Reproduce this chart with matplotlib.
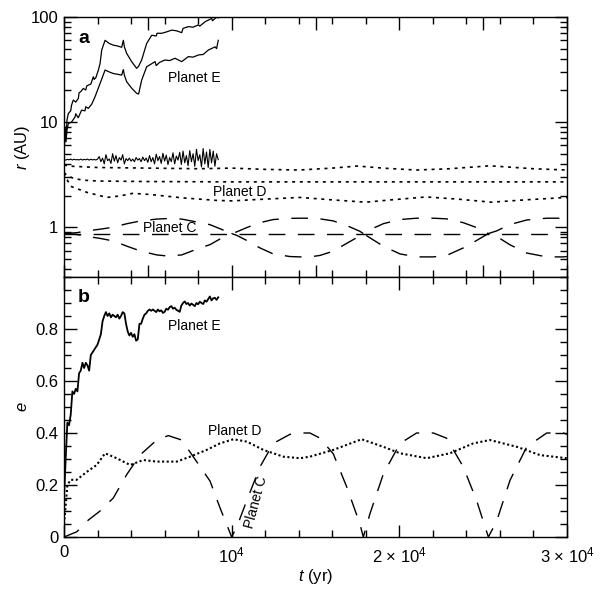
import matplotlib
matplotlib.use('Agg')
import matplotlib.pyplot as plt
import numpy as np
from matplotlib.ticker import MultipleLocator, FixedLocator, NullFormatter, LogLocator

plt.rcParams['font.family'] = 'Liberation Sans'
plt.rcParams['mathtext.fontset'] = 'custom'
plt.rcParams['mathtext.rm'] = 'Liberation Sans'
plt.rcParams['mathtext.it'] = 'Liberation Sans:italic'

# ---- planet E (scattered outward), sampled every 100 yr up to 9200 yr ----
tE = np.arange(0, 9201, 100)

E_peri = [4.4, 4.35, 4.42, 4.38, 4.45, 4.36, 4.43, 4.38, 4.4, 4.37, 4.44, 4.36, 4.42, 4.38,
          4.45, 4.35, 4.43, 4.37, 4.41, 4.36, 4.44,
          4.7, 4.2, 4.55, 4.0, 4.9, 4.3, 4.45, 4.05, 5.0, 4.25, 4.8, 4.1, 4.6, 4.35, 4.9, 4.0, 4.5,
          4.3, 4.55, 4.25, 4.45, 4.2, 4.6, 4.35, 4.5, 4.2, 4.65, 4.3, 4.55, 4.15,
          4.8, 4.2, 4.6, 4.0, 4.95, 4.3, 4.7, 4.05, 5.05, 4.25, 4.85, 3.95, 4.6, 4.2, 5.1, 4.0,
          4.75, 4.35, 5.15, 3.95,
          5.3, 4.1, 4.8, 3.85, 5.35, 4.2, 5.0, 3.8, 5.5, 4.3, 4.9, 3.75, 5.6, 4.0, 5.2, 3.7,
          5.5, 4.1, 5.3, 3.8, 5.0, 4.4]

E_ecc = [0.15, 0.30, 0.44, 0.43, 0.47, 0.56, 0.55, 0.57, 0.56, 0.63, 0.64, 0.67, 0.65, 0.67,
         0.66, 0.64, 0.70, 0.71, 0.72, 0.73, 0.74, 0.76, 0.78, 0.83, 0.85, 0.865, 0.85, 0.86,
         0.845, 0.855, 0.85, 0.845, 0.855, 0.84, 0.85, 0.865, 0.86, 0.82, 0.79, 0.775, 0.785,
         0.77, 0.78, 0.755, 0.76, 0.82, 0.82, 0.84, 0.855, 0.86, 0.87, 0.875, 0.87, 0.875,
         0.87, 0.865, 0.875, 0.868, 0.872, 0.862, 0.866, 0.878, 0.874, 0.884, 0.888, 0.878,
         0.882, 0.874, 0.87, 0.866, 0.89, 0.9, 0.906, 0.896, 0.9, 0.89, 0.898, 0.893, 0.888,
         0.9, 0.895, 0.905, 0.9, 0.896, 0.91, 0.905, 0.915, 0.925, 0.91, 0.918, 0.92, 0.912,
         0.922]

tE_apo = [0, 60, 120, 180, 260, 400, 450, 555, 700, 855, 900, 1000, 1150, 1300, 1350, 1450,
          1600, 1750, 1800, 1900, 2050, 2150, 2250, 2450, 2700, 2940, 3200, 3440, 3540, 3600,
          3740, 4040, 4330, 4450, 4630, 4930, 5230, 5500, 5550, 5830, 6100, 6420, 6700, 7020,
          7100, 7420, 7700, 8010, 8100, 8410, 8810, 8850, 9110, 9200]
E_apo = [5.2, 9.0, 7.0, 10.5, 12.1, 12.8, 14.5, 16.2, 15.5, 16.8, 19.0, 19.5, 20.9, 20.2, 22.0,
         22.5, 23.0, 27.0, 25.5, 26.5, 31.3, 36.0, 48.5, 60.0, 56.0, 54.0, 53.0, 51.5, 60.0,
         52.0, 45.0, 37.5, 32.5, 34.0, 38.9, 56.0, 67.0, 66.0, 70.0, 70.0, 72.0, 75.0, 74.0,
         71.0, 78.0, 81.0, 80.0, 84.0, 82.0, 90.0, 97.0, 92.0, 100.0, 98.0]

tE_a = [0, 60, 120, 180, 260, 450, 660, 700, 850, 1050, 1250, 1300, 1450, 1650, 1850, 2150,
        2450, 2700, 2940, 3200, 3440, 3540, 3600, 3740, 4040, 4330, 4450, 4630, 4930, 5430,
        5500, 5700, 6020, 6300, 6620, 7020, 7420, 7700, 8010, 8300, 8610, 9010, 9100, 9200]
E_a = [5.0, 7.5, 6.5, 8.5, 9.7, 10.0, 11.2, 12.0, 11.0, 13.0, 12.8, 14.0, 13.5, 14.8, 17.4,
       23.3, 31.3, 30.0, 29.0, 28.5, 28.0, 31.6, 28.0, 24.2, 21.0, 18.8, 18.5, 25.0, 33.6,
       37.6, 34.5, 37.0, 39.0, 38.5, 40.5, 37.6, 42.0, 41.5, 43.5, 44.0, 48.5, 52.0, 50.0, 60.0]

# ---- planet D ----
tD_apo = [0, 500, 2000, 5000, 8000, 10000, 12000, 14000, 16000, 17500, 19000, 21000, 23000,
          25400, 28000, 30000]
D_apo = [3.9, 3.8, 3.7, 3.65, 3.6, 3.65, 3.55, 3.5, 3.65, 3.82, 3.65, 3.5, 3.6, 3.84, 3.6, 3.5]

tD_a = [0, 200, 600, 1200, 2000, 5000, 10000, 15000, 20000, 25000, 30000]
D_a = [3.3, 3.1, 2.9, 2.8, 2.75, 2.72, 2.7, 2.7, 2.7, 2.7, 2.7]

tD_peri = [0, 150, 400, 1350, 2550, 3300, 4100, 5100, 7100, 9100, 10000, 11100, 14080, 16000,
           18000, 19500, 21600, 23500, 25500, 27500, 30000]
D_peri = [3.3, 2.9, 2.45, 2.15, 1.92, 1.98, 2.1, 2.05, 1.9, 1.8, 1.78, 1.82, 1.92, 1.82, 1.73,
          1.82, 1.94, 1.85, 1.73, 1.82, 1.92]

tD_ecc = [0, 100, 200, 400, 760, 1350, 1950, 2450, 3140, 3940, 4730, 5530, 6720, 7520, 8510,
          9300, 10100, 10900, 11890, 13080, 14080, 14670, 16060, 17750, 19040, 20040, 21630,
          23020, 24410, 25400, 27000, 28390, 29980]
D_ecc = [0.05, 0.12, 0.2, 0.22, 0.22, 0.25, 0.277, 0.322, 0.303, 0.277, 0.296, 0.29, 0.29,
         0.309, 0.335, 0.36, 0.376, 0.367, 0.335, 0.309, 0.303, 0.309, 0.335, 0.376, 0.347,
         0.322, 0.303, 0.322, 0.36, 0.373, 0.347, 0.315, 0.303]

# ---- planet C ----
tC = [0, 760, 1450, 2150, 2940, 3740, 4530, 5530, 6220, 7020, 7910, 8710, 9300, 10000, 10300,
      10900, 11690, 12480, 13480, 14080, 14670, 15270, 16060, 16860, 17650, 17850, 18250, 19050,
      20040, 21030, 22030, 22820, 23810, 24610, 25310, 25800, 26600, 27600, 28790, 29780, 30000]
C_ecc = [0, 0.02, 0.065, 0.10, 0.15, 0.24, 0.315, 0.373, 0.39, 0.373, 0.29, 0.215, 0.113, 0.0,
         0.038, 0.14, 0.27, 0.36, 0.395, 0.40, 0.40, 0.38, 0.32, 0.193, 0.05, 0.0, 0.09, 0.243,
         0.36, 0.40, 0.40, 0.38, 0.27, 0.14, 0.0, 0.06, 0.218, 0.347, 0.40, 0.40, 0.395]
C_apo = [0.87, 0.887, 0.927, 0.957, 1.0, 1.079, 1.144, 1.195, 1.209, 1.195, 1.122, 1.057, 0.968,
         0.87, 0.903, 0.992, 1.105, 1.183, 1.214, 1.218, 1.218, 1.201, 1.148, 1.038, 0.914, 0.87,
         0.948, 1.081, 1.183, 1.218, 1.218, 1.201, 1.105, 0.992, 0.87, 0.922, 1.06, 1.172, 1.218,
         1.218, 1.214]
C_peri = [0.87, 0.853, 0.813, 0.783, 0.74, 0.661, 0.596, 0.545, 0.531, 0.545, 0.618, 0.683,
          0.772, 0.87, 0.837, 0.748, 0.635, 0.557, 0.526, 0.522, 0.522, 0.539, 0.592, 0.702,
          0.827, 0.87, 0.792, 0.659, 0.557, 0.522, 0.522, 0.539, 0.635, 0.748, 0.87, 0.818, 0.68,
          0.568, 0.522, 0.522, 0.526]
tC_a = [0, 30000]
C_a = [0.87, 0.87]

long_dash = (12, 9)
dot_dash = (1.8, 2.8)

fig = plt.figure(figsize=(6, 5.89), dpi=100)
ax1 = fig.add_axes([64/600, 1-277/589, 503/600, 260/589])
ax2 = fig.add_axes([64/600, 1-537/589, 503/600, 260/589])

# top panel: distances
ax1.plot(tE_apo, E_apo, color='k', lw=0.9)
ax1.plot(tE_a, E_a, color='k', lw=0.9)
ax1.plot(tE, E_peri, color='k', lw=0.8)
ax1.plot(tD_apo, D_apo, color='k', lw=1.2, dashes=dot_dash)
ax1.plot(tD_a, D_a, color='k', lw=1.2, dashes=dot_dash)
ax1.plot(tD_peri, D_peri, color='k', lw=1.2, dashes=dot_dash)
ax1.plot(tC, C_apo, color='k', lw=1.0, dashes=long_dash)
ax1.plot(tC_a, C_a, color='k', lw=1.0, dashes=long_dash)
ax1.plot(tC, C_peri, color='k', lw=1.0, dashes=long_dash)

ax1.set_yscale('log')
ax1.set_ylim(0.336, 100)
ax1.set_xlim(0, 30000)
ax1.yaxis.set_major_locator(FixedLocator([1, 10, 100]))
ax1.set_yticklabels(['1', '10', '100'])
ax1.yaxis.set_minor_locator(LogLocator(base=10, subs=np.arange(2, 10)))
ax1.yaxis.set_minor_formatter(NullFormatter())
ax1.set_ylabel(r'$r$ (AU)', fontsize=12, labelpad=-1)
ax1.tick_params(labelbottom=False)

ax1.text(1160, 63, 'a', fontsize=14, fontweight='bold', ha='center', va='center')
ax1.text(7750, 26, 'Planet E', fontsize=10, ha='center', va='center')
ax1.text(10500, 2.15, 'Planet D', fontsize=10, ha='center', va='center')
ax1.text(6280, 0.985, 'Planet C', fontsize=10, ha='center', va='center')

# bottom panel: eccentricities
ax2.plot(tE, E_ecc, color='k', lw=1.3)
ax2.plot(tD_ecc, D_ecc, color='k', lw=1.5, dashes=(1.0, 1.2))
ax2.plot(tC, C_ecc, color='k', lw=1.0, dashes=long_dash)

ax2.set_xlim(0, 30000)
ax2.set_ylim(0, 1.0)
ax2.yaxis.set_major_locator(FixedLocator([0, 0.2, 0.4, 0.6, 0.8]))
ax2.set_yticklabels(['0', '0.2', '0.4', '0.6', '0.8'])
ax2.yaxis.set_minor_locator(MultipleLocator(0.05))
ax2.set_ylabel(r'$e$', fontsize=12, labelpad=4)
ax2.set_xlabel(r'$t$ (yr)', fontsize=12, labelpad=1)
ax2.set_xticks([0, 10000, 20000, 30000])
ax2.set_xticklabels(['0', r'$10^4$', r'2 × $10^4$', r'3 × $10^4$'])

ax2.text(1160, 0.921, 'b', fontsize=14, fontweight='bold', ha='center', va='center')
ax2.text(7750, 0.8115, 'Planet E', fontsize=10, ha='center', va='center')
ax2.text(10200, 0.406, 'Planet D', fontsize=10, ha='center', va='center')
ax2.text(11480, 0.133, 'Planet C', fontsize=10, ha='center', va='center', rotation=75)

for ax in (ax1, ax2):
    ax.xaxis.set_minor_locator(MultipleLocator(2000))
    ax.tick_params(which='both', direction='in', top=True, right=True, width=1.0,
                   labelsize=12, pad=4)
    ax.tick_params(which='major', length=9)
    ax.tick_params(which='minor', length=5)
    for s in ax.spines.values():
        s.set_linewidth(1.0)
ax2.tick_params(axis='x', which='major', pad=6)

plt.savefig('out.png', dpi=100)
